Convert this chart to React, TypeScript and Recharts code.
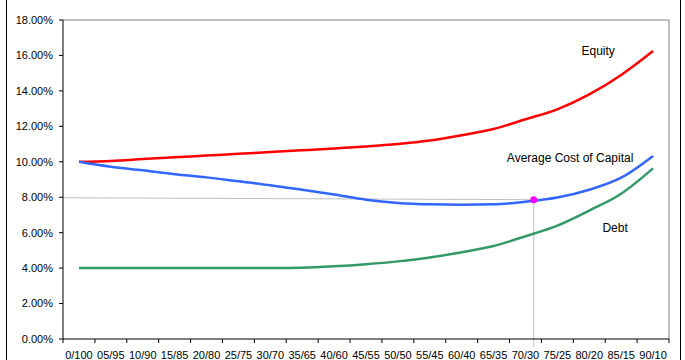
import {
  ComposedChart,
  Line,
  XAxis,
  YAxis,
  ReferenceLine,
  ReferenceDot,
} from "recharts";

const categories = [
  "0/100", "05/95", "10/90", "15/85", "20/80", "25/75", "30/70", "35/65", "40/60", "45/55",
  "50/50", "55/45", "60/40", "65/35", "70/30", "75/25", "80/20", "85/15", "90/10",
];

const equity = [
  10.0, 10.05, 10.15, 10.25, 10.35, 10.45, 10.55, 10.65, 10.75, 10.86,
  11.0, 11.2, 11.5, 11.85, 12.4, 12.96, 13.8, 14.9, 16.25,
];

const averageCost = [
  10.0, 9.72, 9.52, 9.3, 9.12, 8.9, 8.68, 8.42, 8.15, 7.86,
  7.68, 7.6, 7.58, 7.6, 7.75, 7.98, 8.42, 9.1, 10.33,
];

const debt = [
  4.0, 4.0, 4.0, 4.0, 4.0, 4.0, 4.0, 4.02, 4.1, 4.22,
  4.38, 4.6, 4.9, 5.25, 5.8, 6.4, 7.25, 8.2, 9.63,
];

const yTicks = [0, 2, 4, 6, 8, 10, 12, 14, 16, 18];

// optimum point marker (position in category units from the left edge)
const optimumX = 14.76;
const optimumY = 7.86;
const optimumLeftY = 7.97;

const data = categories.map((label, i) => ({
  label,
  pos: i + 0.5,
  equity: equity[i],
  average: averageCost[i],
  debt: debt[i],
}));

const W = 685;
const H = 360;
const M = { top: 20, right: 16, bottom: 0, left: 0 };
const X_AXIS_H = 21;
const Y_AXIS_W = 63;
const PLOT_W = W - M.left - M.right - Y_AXIS_W;
const STEP = PLOT_W / categories.length;
const TICK_SIZE = 4;
const TICK_MARGIN = 8;

const FONT = "'Liberation Sans', Arial, sans-serif";

function XTick(props: any) {
  const { x, y, payload, index } = props;
  const axisY = y - TICK_SIZE - TICK_MARGIN;
  const last = index === categories.length - 1;
  return (
    <g>
      <line x1={x - STEP / 2} x2={x - STEP / 2} y1={axisY} y2={axisY + TICK_SIZE} stroke="#000" />
      {last && (
        <line x1={x + STEP / 2} x2={x + STEP / 2} y1={axisY} y2={axisY + TICK_SIZE} stroke="#000" />
      )}
      <text x={x} y={y} dy="0.71em" textAnchor="middle" fontSize={11} fill="#000" fontFamily={FONT}>
        {payload.value}
      </text>
    </g>
  );
}

const labelStyle = { fontSize: 12, fill: "#000", fontFamily: FONT };

export default function App() {
  return (
    <div style={{ position: "absolute", left: 0, top: 0, width: W, height: H, background: "#fff", fontFamily: FONT }}>
      <div
        style={{
          position: "absolute",
          left: 6,
          top: 0,
          width: 673,
          height: H,
          borderLeft: "1px solid #000",
          borderRight: "1px solid #000",
        }}
      />
      <ComposedChart width={W} height={H} data={data} margin={M} style={{ position: "absolute", left: 0, top: 0 }}>
        <XAxis
          xAxisId="cat"
          dataKey="label"
          type="category"
          scale="band"
          interval={0}
          height={X_AXIS_H}
          tickLine={false}
          tickSize={TICK_SIZE}
          tickMargin={TICK_MARGIN}
          axisLine={{ stroke: "#000" }}
          tick={<XTick />}
        />
        <XAxis
          xAxisId="num"
          dataKey="pos"
          type="number"
          domain={[0, categories.length]}
          allowDataOverflow
          hide
        />
        <YAxis
          domain={[0, 18]}
          ticks={yTicks}
          interval={0}
          width={Y_AXIS_W}
          tickSize={TICK_SIZE}
          tickMargin={6}
          axisLine={{ stroke: "#000" }}
          tickLine={{ stroke: "#000" }}
          tick={{ fontSize: 11, fill: "#000", fontFamily: FONT }}
          tickFormatter={(v: number) => v.toFixed(2) + "%"}
        />

        {/* plot area frame */}
        <ReferenceLine xAxisId="num" y={18} stroke="#808080" />
        <ReferenceLine xAxisId="num" x={categories.length} stroke="#808080" />

        {/* optimum guide lines */}
        <ReferenceLine
          xAxisId="num"
          stroke="#c0c0c0"
          segment={[
            { x: 0, y: optimumLeftY },
            { x: optimumX, y: optimumY },
          ]}
        />
        <ReferenceLine
          xAxisId="num"
          stroke="#c0c0c0"
          ifOverflow="visible"
          segment={[
            { x: optimumX, y: optimumY },
            { x: optimumX, y: -0.45 },
          ]}
        />

        <Line
          xAxisId="cat"
          type="monotone"
          dataKey="equity"
          stroke="#ff0000"
          strokeWidth={2.5}
          dot={false}
          isAnimationActive={false}
        />
        <Line
          xAxisId="cat"
          type="monotone"
          dataKey="average"
          stroke="#3366ff"
          strokeWidth={2.5}
          dot={false}
          isAnimationActive={false}
        />
        <Line
          xAxisId="cat"
          type="monotone"
          dataKey="debt"
          stroke="#339966"
          strokeWidth={2.5}
          dot={false}
          isAnimationActive={false}
        />

        <ReferenceDot xAxisId="num" x={optimumX} y={optimumY} r={3.5} fill="#ff00ff" stroke="none" />

        {/* series labels */}
        <ReferenceDot
          xAxisId="num"
          x={16.78}
          y={16.25}
          r={1}
          fill="none"
          stroke="none"
          label={{ value: "Equity", position: "center", ...labelStyle }}
        />
        <ReferenceDot
          xAxisId="num"
          x={15.9}
          y={10.21}
          r={1}
          fill="none"
          stroke="none"
          label={{ value: "Average Cost of Capital", position: "center", ...labelStyle }}
        />
        <ReferenceDot
          xAxisId="num"
          x={17.31}
          y={6.26}
          r={1}
          fill="none"
          stroke="none"
          label={{ value: "Debt", position: "center", ...labelStyle }}
        />
      </ComposedChart>
    </div>
  );
}
